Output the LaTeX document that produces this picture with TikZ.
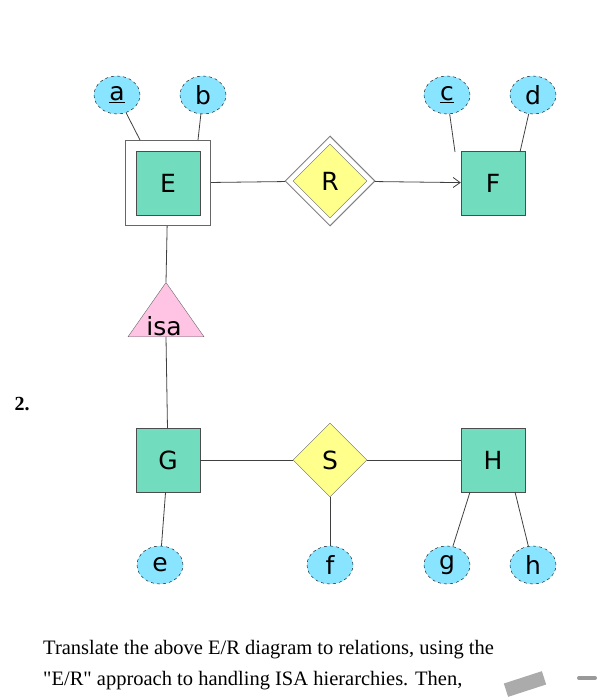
\documentclass[tikz,border=0pt]{standalone}
\usepackage{fontspec}
\setmainfont{Liberation Serif}
\newfontfamily\djsans{DejaVu Sans}
\usetikzlibrary{shapes.geometric,arrows.meta}
\definecolor{attr}{HTML}{88E4FF}
\definecolor{ent}{HTML}{72DDBE}
\definecolor{rel}{HTML}{FFFF8C}
\definecolor{isac}{HTML}{FFC4E4}
\begin{document}
\begin{tikzpicture}[x=1pt,y=-1pt,
  lbl/.style={font=\djsans\fontsize{25}{25}\selectfont},
  attrib/.style={ellipse,draw,dashed,fill=attr,minimum width=46pt,minimum height=38pt,inner sep=0pt,lbl},
  entity/.style={draw=black!70,fill=ent,minimum size=64pt,inner sep=0pt,lbl},
  relat/.style={diamond,draw=black!60,fill=rel,minimum width=74pt,minimum height=74pt,inner sep=0pt,lbl},
  conn/.style={draw=black!75,line width=0.8pt}]
\useasboundingbox (0,0) rectangle (615,700);
\node[attrib] (a) at (117,95) {\underline{a}};
\node[attrib] (b) at (203,95) {b};
\node[attrib] (c) at (447,95) {\underline{c}};
\node[attrib] (d) at (533,95) {d};
\node[draw=black!60,fill=white,minimum size=85pt,line width=1pt] (Eo) at (168,183) {};
\node[entity] (E) at (168,183) {E};
\node[entity] (F) at (493,183) {F};
\node[diamond,draw=black!50,fill=white,minimum width=90pt,minimum height=90pt,inner sep=0pt,line width=1pt] (Ro) at (330,181) {};
\node[relat] (R) at (330,181) {R};
\node[isosceles triangle,isosceles triangle apex angle=70,shape border rotate=90,draw=black!60,fill=isac,minimum height=52pt,minimum width=76pt,inner sep=0pt] (isa) at (166,317) {};
\node[lbl] (isat) at (164,326) {isa};
\node[entity] (G) at (168,460) {G};
\node[relat] (S) at (330,460) {S};
\node[entity] (H) at (493,460) {H};
\node[attrib] (e) at (160,565) {e};
\node[attrib] (f) at (330,565) {f};
\node[attrib] (g) at (447,565) {g};
\node[attrib] (h) at (533,565) {h};
\coordinate (ea) at (140,140); \coordinate (eb) at (198,140);
\coordinate (fc) at (455,152); \coordinate (fd) at (520,152);
\coordinate (hg) at (470,492); \coordinate (hh) at (515,492);
\draw[conn] (a) -- (ea); \draw[conn] (b) -- (eb);
\draw[conn] (c) -- (fc); \draw[conn] (d) -- (fd);
\draw[conn] (g) -- (hg); \draw[conn] (h) -- (hh);
\draw[conn] (Eo) -- (Ro);
\draw[conn,-{Straight Barb[length=7pt,width=10pt]}] (Ro) -- (F);
\draw[conn] (Eo) -- (isa.apex);
\draw[conn] (isa.south) -- (G);
\draw[conn] (G) -- (S); \draw[conn] (S) -- (H);
\draw[conn] (G) -- (e); \draw[conn] (S) -- (f);
\node[font=\bfseries\fontsize{20}{20}\selectfont] (num) at (22,404) {2.};
\node[anchor=west,font=\fontsize{20.5}{20}\selectfont,inner sep=0pt] (t1) at (43,650) {Translate the above E/R diagram to relations, using the};
\node[anchor=west,font=\fontsize{20.5}{20}\selectfont,inner sep=0pt] (t2) at (43,681) {\textquotedbl E/R\textquotedbl{} approach to handling ISA hierarchies. Then,};
\fill[black!60,opacity=0.55,rotate around={18:(525,684)}] (505,677) rectangle (545,691);
\draw[black!40,line width=4pt,line cap=round] (579,678) -- (595,678);
\end{tikzpicture}
\end{document}
